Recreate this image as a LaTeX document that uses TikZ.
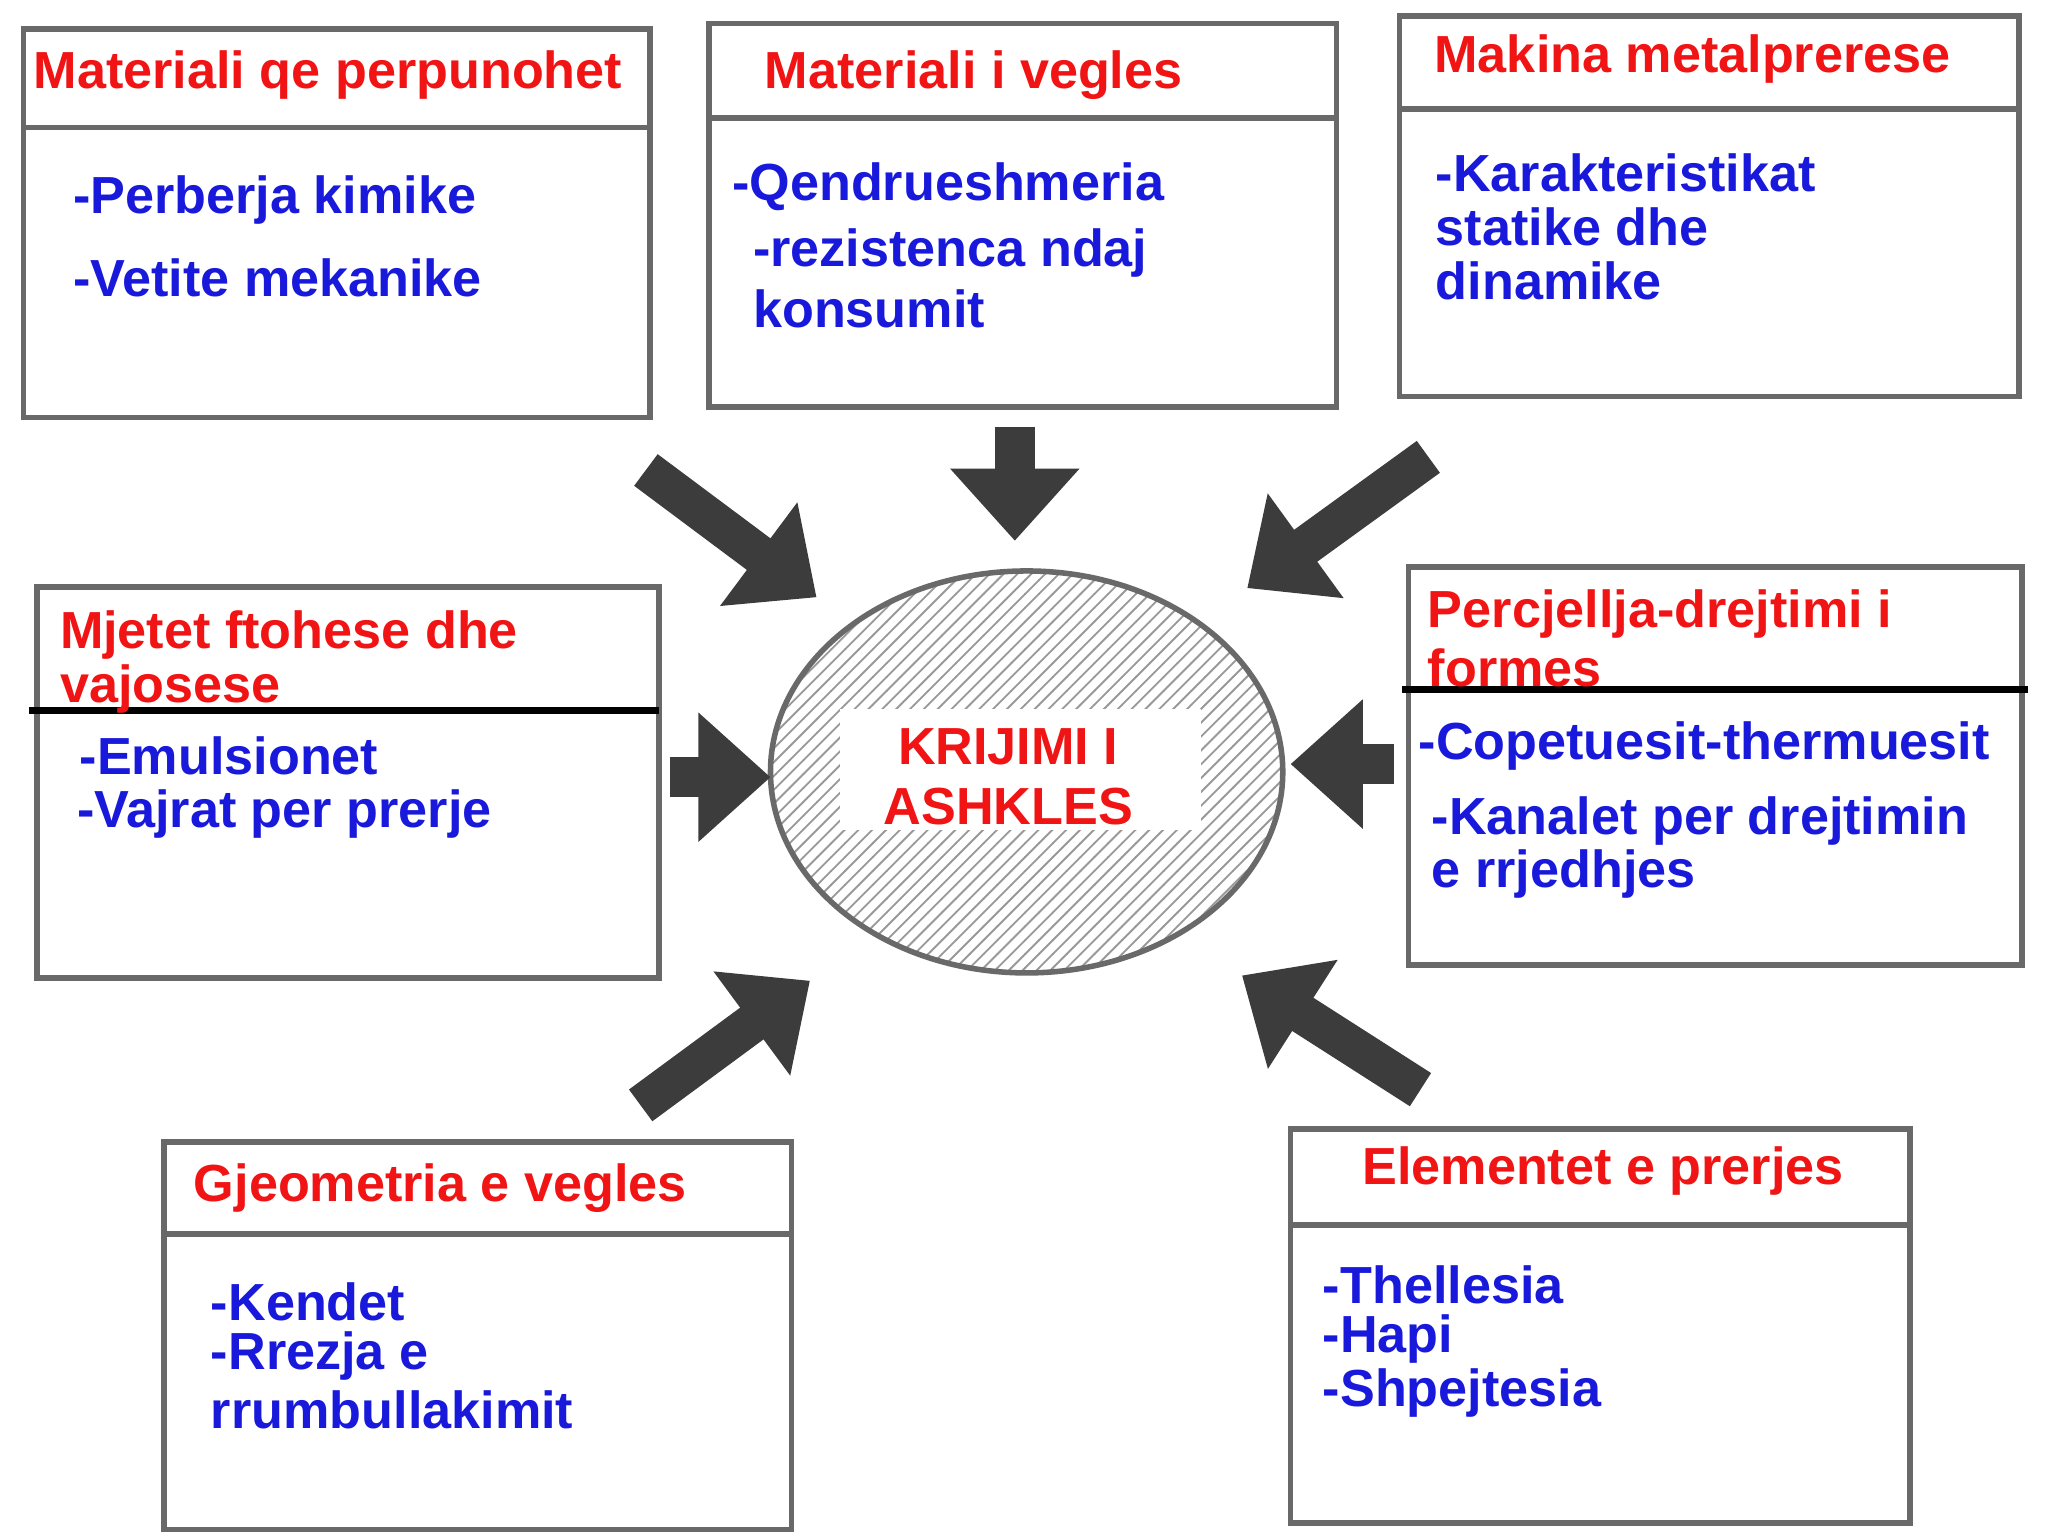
\documentclass[tikz,border=0pt]{standalone}
\usepackage{fontspec}
\setmainfont{Liberation Sans}
\usetikzlibrary{arrows.meta,patterns,shapes.geometric}
\definecolor{tred}{RGB}{240,20,20}
\definecolor{tblue}{RGB}{25,25,220}
\definecolor{boxgray}{RGB}{105,105,105}
\definecolor{arrgray}{RGB}{60,60,60}
\tikzset{
 box/.style={draw=boxgray,line width=1.2pt},
 ttl/.style={anchor=west,text=tred,font=\bfseries\fontsize{11.3}{12}\selectfont,inner sep=0pt},
 itm/.style={anchor=west,text=tblue,font=\bfseries\fontsize{11.3}{12}\selectfont,inner sep=0pt},
 blk/.style={arrgray,line width=0.3cm,-{Triangle[length=0.55cm,width=0.95cm]}}
}
\begin{document}
\begin{tikzpicture}[x=0.01cm,y=-0.01cm]
\useasboundingbox[fill=white] (0,0) rectangle (1560,1170);
% boxes
\draw[box] (18,22) rectangle (495,318); \draw[box] (18,97) -- (495,97);
\draw[box] (540,18) rectangle (1018,310); \draw[box] (540,90) -- (1018,90);
\draw[box] (1066,12) rectangle (1538,302); \draw[box] (1066,83) -- (1538,83);
\draw[box] (28,447) rectangle (502,745); \draw[black,line width=1.6pt] (22,541) -- (502,541);
\draw[box] (1073,432) rectangle (1540,735); \draw[black,line width=1.6pt] (1068,525) -- (1545,525);
\draw[box] (125,870) rectangle (603,1165); \draw[box] (125,940) -- (603,940);
\draw[box] (983,860) rectangle (1455,1160); \draw[box] (983,933) -- (1455,933);
% texts
\node[ttl] (t1) at (25,57) {Materiali qe perpunohet};
\node[itm] (a1) at (55,152) {-Perberja kimike};
\node[itm] (a2) at (55,212) {-Vetite mekanike};
\node[ttl] (t2) at (582,57) {Materiali i vegles};
\node[itm] (b1) at (557,142) {-Qendrueshmeria};
\node[itm] (b2) at (573,193) {-rezistenca ndaj};
\node[itm] (b3) at (573,235) {konsumit};
\node[ttl] (t3) at (1092,45) {Makina metalprerese};
\node[itm] (c1) at (1093,132) {-Karakteristikat};
\node[itm] (c2) at (1093,173) {statike dhe};
\node[itm] (c3) at (1093,214) {dinamike};
\node[ttl] (t4) at (45,484) {Mjetet ftohese dhe};
\node[ttl] (t4b) at (45,525) {vajosese};
\node[itm] (d1) at (60,576) {-Emulsionet};
\node[itm] (d2) at (58,620) {-Vajrat per prerje};
\node[ttl] (t5) at (1087,468) {Percjellja-drejtimi i};
\node[ttl] (t5b) at (1087,509) {formes};
\node[itm] (e1) at (1080,568) {-Copetuesit-thermuesit};
\node[itm] (e2) at (1090,625) {-Kanalet per drejtimin};
\node[itm] (e3) at (1090,666) {e rrjedhjes};
\node[ttl] (t6) at (147,905) {Gjeometria e vegles};
\node[itm] (f1) at (160,992) {-Kendet};
\node[itm] (f2) at (160,1033) {-Rrezja e};
\node[itm] (f3) at (160,1074) {rrumbullakimit};
\node[ttl] (t7) at (1037,892) {Elementet e prerjes};
\node[itm] (g1) at (1007,979) {-Thellesia};
\node[itm] (g2) at (1007,1020) {-Hapi};
\node[itm] (g3) at (1007,1061) {-Shpejtesia};
% center
\node[draw=boxgray,line width=1.2pt,ellipse,minimum width=3.9cm,minimum height=3.06cm,pattern={north east lines},pattern color=gray!80,inner sep=0pt] (c) at (782,588) {};
\fill[white] (640,540) rectangle (915,632);
\node[text=tred,font=\bfseries\fontsize{11.3}{13}\selectfont,align=center] (k) at (768,592) {KRIJIMI I\\ASHKLES};
% arrows
\coordinate (s1) at (492,358); \coordinate (e1a) at (622,455);
\coordinate (s2) at (773,325); \coordinate (e2a) at (773,412);
\coordinate (s3) at (1088,348); \coordinate (e3a) at (950,448);
\coordinate (s4) at (510,592); \coordinate (e4a) at (587,592);
\coordinate (s5) at (1062,582); \coordinate (e5a) at (983,582);
\coordinate (s6) at (488,842); \coordinate (e6a) at (617,747);
\coordinate (s7) at (1082,830); \coordinate (e7a) at (946,743);
\foreach \a/\b in {s1/e1a,s2/e2a,s3/e3a,s4/e4a,s5/e5a,s6/e6a,s7/e7a}
  \draw[blk] (\a) -- (\b);
\end{tikzpicture}
\end{document}
